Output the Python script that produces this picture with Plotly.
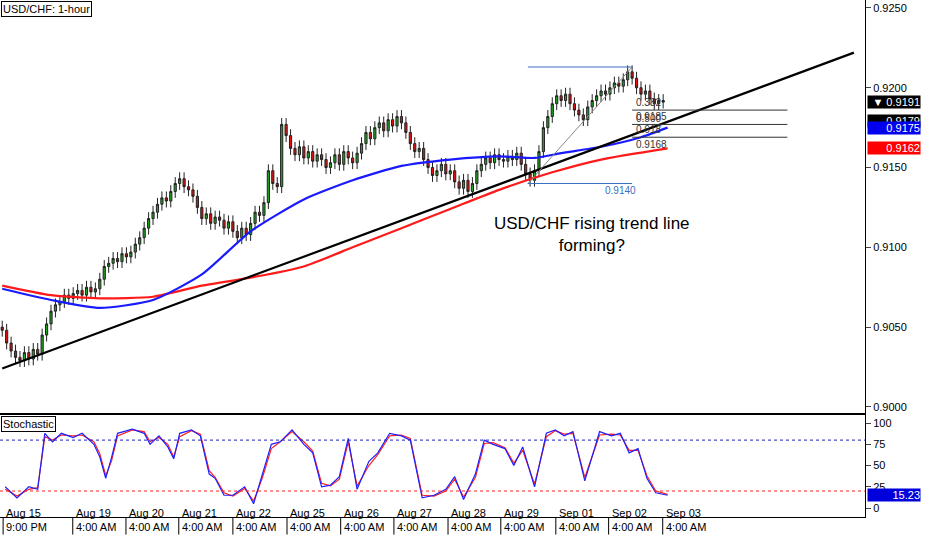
import plotly.graph_objects as go

closes = [0.9048,0.9040,0.9035,0.9031,0.9029, 0.9034,0.9030,0.9036,0.9033,
 0.9045,0.9052,0.9060,0.9064, 0.9066,0.9070,0.9068,0.9071, 0.9073,0.9070,0.9075,0.9072,0.9074,
 0.9080,0.9088,0.9090, 0.9093,0.9091,0.9096,0.9094,0.9097, 0.9102,0.9106,0.9112,0.9118,
 0.9122,0.9127,0.9131,0.9129, 0.9135,0.9140,0.9143,0.9138,0.9136, 0.9132,0.9125,0.9118,0.9121,
 0.9115,0.9119,0.9117,0.9112,0.9116, 0.9110,0.9106,0.9112,0.9108, 0.9115,0.9122,0.9120,0.9128,
 0.9148,0.9140,0.9138, 0.9177,0.9170,0.9162,0.9158, 0.9163,0.9156,0.9160,0.9154,
 0.9158,0.9155,0.9150,0.9153, 0.9158,0.9152,0.9160,0.9156, 0.9153,0.9159,0.9165,0.9172,
 0.9168,0.9175,0.9178,0.9173, 0.9180,0.9176,0.9182,0.9178, 0.9172,0.9165,0.9160,0.9162,
 0.9155,0.9150,0.9145,0.9148, 0.9152,0.9146,0.9148,0.9141, 0.9137,0.9142,0.9135,0.9140,
 0.9148,0.9152,0.9156,0.9153, 0.9158,0.9155,0.9154,0.9157, 0.9155,0.9159,0.9152,0.9146,
 0.9142,0.9148,0.9160, 0.9175,0.9182,0.9190,0.9195, 0.9192,0.9196,0.9190,0.9186,
 0.9183,0.9180,0.9188,0.9192, 0.9195,0.9198,0.9196,0.9200, 0.9203,0.9201,0.9205,0.9210,
 0.9206,0.9200,0.9196,0.9198, 0.9193,0.9190,0.9192,0.9191]
first_open = 0.9050
wick = 0.0004

ma100_x = [0, 11, 22, 34, 45, 56, 68, 79, 90, 101, 112, 120, 126, 135, 144, 150]
ma100_y = [0.9074, 0.9067, 0.9062, 0.9067, 0.9083, 0.9110, 0.9130, 0.9142, 0.9151, 0.9155, 0.9157, 0.9156, 0.9159, 0.9163, 0.9169, 0.9175]
ma200_x = [0, 11, 22, 34, 45, 56, 68, 79, 90, 101, 112, 124, 135, 150]
ma200_y = [0.9076, 0.9070, 0.9068, 0.9069, 0.9076, 0.9081, 0.9088, 0.9100, 0.9112, 0.9124, 0.9136, 0.9147, 0.9155, 0.9162]

trend_x = [0, 192]
trend_y = [0.9024, 0.9222]

fib_x0, fib_x1, fib_x2 = 118.5, 142, 177
fib_high, fib_low = 0.9213, 0.9140
fib_levels = [0.9186, 0.9177, 0.9169]

stoch_zx = [5,25,45,60,72,85,100,120,135,155,165,175,185,195,220,240,250,265,280,290,300,320,335,350,360,375,390,410,425,440,455,470,490,510,525,540,555,570,585,600,620,635,655,675,690,710,730,750,765,780,800,815,830,850,865,880,900,920,935,950,965,985,1010,1030,1045,1060,1075,1090,1105,1125]
stoch_k = [25,12,25,22,88,78,88,83,88,75,60,35,60,88,93,88,75,85,72,58,88,92,85,40,35,15,15,25,5,40,75,78,92,75,65,25,27,37,82,22,55,65,88,85,80,12,15,22,37,10,40,80,75,70,50,72,25,88,92,85,90,32,90,85,88,65,70,35,18,15]
stoch_d = [22,14,22,24,84,80,86,85,86,78,64,38,56,85,92,90,78,83,75,60,84,91,87,44,36,18,14,23,8,36,70,78,90,78,67,29,26,34,78,26,50,63,85,86,82,15,14,20,34,13,36,76,77,71,53,68,28,84,91,87,88,36,86,87,86,68,68,38,20,16]

date_labels = ["Aug 15","Aug 19","Aug 20","Aug 21","Aug 22","Aug 25","Aug 26","Aug 27","Aug 28","Aug 29","Sep 01","Sep 02","Sep 03"]
date_pos = [0.5,16.2,28.2,40.1,52.3,64.5,76.6,88.6,100.8,112.7,125.1,137.0,149.2]
time_labels = ["9:00 PM"] + ["4:00 AM"]*12

opens = [first_open] + closes[:-1]
highs = [max(o, c) + wick for o, c in zip(opens, closes)]
lows = [min(o, c) - wick for o, c in zip(opens, closes)]
idx = list(range(len(closes)))

fig = go.Figure()
fig.add_trace(go.Candlestick(x=idx, open=opens, high=highs, low=lows, close=closes,
    increasing=dict(line=dict(color="#222", width=1), fillcolor="#1fa31f"),
    decreasing=dict(line=dict(color="#222", width=1), fillcolor="#e01010"),
    whiskerwidth=0, showlegend=False, xaxis="x", yaxis="y"))
fig.add_trace(go.Scatter(x=ma200_x, y=ma200_y, mode="lines", line=dict(color="#ff1a1a", width=2.2, shape="spline", smoothing=0.6), showlegend=False))
fig.add_trace(go.Scatter(x=ma100_x, y=ma100_y, mode="lines", line=dict(color="#1a1aff", width=2.2, shape="spline", smoothing=0.6), showlegend=False))
fig.add_trace(go.Scatter(x=trend_x, y=trend_y, mode="lines", line=dict(color="black", width=2.2), showlegend=False))
fig.add_trace(go.Scatter(x=[fib_x0, fib_x1], y=[fib_low, fib_high], mode="lines", line=dict(color="#888", width=1), showlegend=False))
for lv in [fib_high, fib_low]:
    fig.add_trace(go.Scatter(x=[fib_x0, fib_x1], y=[lv, lv], mode="lines", line=dict(color="#3a6fc0", width=1), showlegend=False))
for lv in fib_levels:
    fig.add_trace(go.Scatter(x=[fib_x1, fib_x2], y=[lv, lv], mode="lines", line=dict(color="#333", width=1), showlegend=False))
sx = [z / 7.5 for z in stoch_zx]
fig.add_trace(go.Scatter(x=sx, y=stoch_d, mode="lines", line=dict(color="#ff2020", width=1.2), showlegend=False, xaxis="x2", yaxis="y2"))
fig.add_trace(go.Scatter(x=sx, y=stoch_k, mode="lines", line=dict(color="#2020ff", width=1.2), showlegend=False, xaxis="x2", yaxis="y2"))

xr = [-0.5, 194.5]
fig.update_layout(
    width=925, height=535, margin=dict(l=0, r=60, t=0, b=18, autoexpand=False),
    paper_bgcolor="white", plot_bgcolor="white",
    font=dict(family="Liberation Sans, Arial", size=11, color="black"),
    xaxis=dict(range=xr, domain=[0, 1], anchor="y", showticklabels=False, showgrid=False, automargin=False,
               rangeslider=dict(visible=False), showline=True, linecolor="black", mirror=True, zeroline=False),
    yaxis=dict(domain=[0.201, 1], range=[0.89961, 0.92550], side="right", showgrid=False, automargin=False,
               tickvals=[0.9, 0.905, 0.91, 0.915, 0.92, 0.925], tickformat=".4f",
               ticks="outside", ticklen=5, showline=True, linecolor="black", mirror=True, zeroline=False),
    xaxis2=dict(range=xr, domain=[0, 1], anchor="y2", showticklabels=False, showgrid=False, automargin=False,
                showline=True, linecolor="black", mirror=True, zeroline=False, matches="x"),
    yaxis2=dict(domain=[0, 0.197], range=[-10.6, 109.4], side="right", showgrid=False, automargin=False,
                tickvals=[0, 25, 50, 75, 100], ticks="outside", ticklen=5,
                showline=True, linecolor="black", mirror=True, zeroline=False, anchor="x2"),
    shapes=[
        dict(type="line", xref="x2", yref="y2", x0=xr[0], x1=xr[1], y0=80, y1=80, line=dict(color="#2020c0", width=1, dash="dot")),
        dict(type="line", xref="x2", yref="y2", x0=xr[0], x1=xr[1], y0=20, y1=20, line=dict(color="#ff2020", width=1, dash="dot")),
    ],
)
ann = []
for lab, p, t in zip(date_labels, date_pos, time_labels):
    ann.append(dict(x=p, y=-6, xref="x2", yref="y2", text=lab, showarrow=False, xanchor="left", font=dict(size=11)))
    ann.append(dict(x=p, y=-0.003, xref="x2", yref="paper", text=t, showarrow=False, xanchor="left", yanchor="top", font=dict(size=11)))
    fig.add_shape(type="line", xref="x2", yref="paper", x0=p - 0.3, x1=p - 0.3, y0=-0.002, y1=-0.034, line=dict(color="black", width=1))
ann += [
    dict(x=0.001, y=0.999, xref="paper", yref="paper", text="USD/CHF: 1-hour", showarrow=False, xanchor="left", yanchor="top",
         bordercolor="black", borderwidth=1, bgcolor="white", borderpad=1, font=dict(size=11)),
    dict(x=0.001, y=0.196, xref="paper", yref="paper", text="Stochastic", showarrow=False, xanchor="left", yanchor="top",
         bordercolor="black", borderwidth=1, bgcolor="white", borderpad=1, font=dict(size=11)),
    dict(x=133, y=0.9108, xref="x", yref="y", text="USD/CHF rising trend line<br>forming?", showarrow=False,
         font=dict(size=17), align="center"),
    dict(x=142.5, y=0.9186, xref="x", yref="y", text="0.382", showarrow=False, xanchor="left", yanchor="bottom", font=dict(size=10, color="#333")),
    dict(x=142.5, y=0.9177, xref="x", yref="y", text="0.9185", showarrow=False, xanchor="left", yanchor="bottom", font=dict(size=10, color="#333")),
    dict(x=142.5, y=0.9176, xref="x", yref="y", text="0.500", showarrow=False, xanchor="left", yanchor="bottom", font=dict(size=10, color="#333")),
    dict(x=142.5, y=0.9169, xref="x", yref="y", text="0.618", showarrow=False, xanchor="left", yanchor="bottom", font=dict(size=10, color="#333")),
    dict(x=142.5, y=0.9169, xref="x", yref="y", text="0.9168", showarrow=False, xanchor="left", yanchor="top", font=dict(size=10, color="#333")),
    dict(x=135.5, y=0.9140, xref="x", yref="y", text="0.9140", showarrow=False, xanchor="left", yanchor="top", font=dict(size=10, color="#3a6fc0")),
]
for val, txt, bg in [(0.9191, "▼ 0.9191", "black"), (0.9179, "0.9179", "black"), (0.9175, "0.9175", "#0000ee"), (0.9162, "0.9162", "#ff0000")]:
    ann.append(dict(x=1.002, y=val, xref="paper", yref="y", text=txt, showarrow=False, xanchor="left",
                    bgcolor=bg, font=dict(size=11, color="white"), width=52, align="right", borderpad=0))
ann.append(dict(x=1.002, y=15.23, xref="paper", yref="y2", text="15.23", showarrow=False, xanchor="left",
                bgcolor="#0000dd", font=dict(size=11, color="white"), width=52, align="right", borderpad=0))
fig.update_layout(annotations=ann)
fig.write_html("out.html", config={"displayModeBar": False},
               post_script="document.body.style.margin='0';document.body.style.overflow='hidden';")
